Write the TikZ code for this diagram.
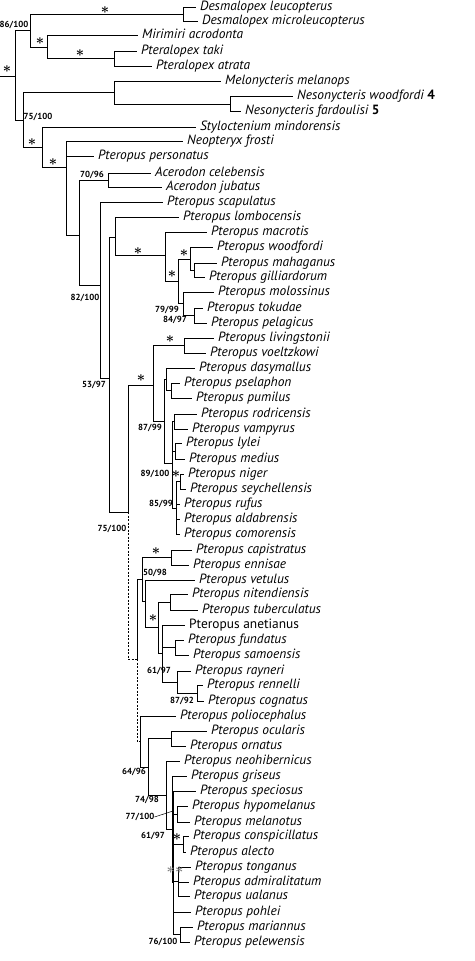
\documentclass[tikz,border=0pt]{standalone}
\usepackage{fontspec}
\setmainfont{PT Sans}
\begin{document}
\begin{tikzpicture}[x=1pt,y=-1pt,
  br/.style={line width=0.85pt},
  dbr/.style={line width=0.6pt,dashed,dash pattern=on 2pt off 1.5pt},
  lf/.style={anchor=west,inner xsep=4pt,inner ysep=0pt,font=\fontsize{13.4}{13.4}\selectfont\itshape,text height=8.5pt,text depth=2.5pt},
  lfu/.style={lf,font=\fontsize{13.4}{13.4}\selectfont\upshape},
  sup/.style={font=\fontsize{8.8}{8.8}\selectfont\bfseries,inner sep=0pt},
  ast/.style={font=\fontsize{15}{15}\selectfont\boldmath,inner sep=0pt,yshift=-3.8pt}]
\fill[white] (0,0) rectangle (474,961);
\useasboundingbox (0,0) rectangle (474,961);
% internal nodes
\coordinate (r0) at (0,76);
\coordinate (R) at (15,76);
\coordinate (A) at (30,30.5);
\coordinate (D) at (183,14);
\coordinate (M) at (47,47);
\coordinate (P) at (114,58.5);
\coordinate (B) at (23,120);
\coordinate (Mel) at (114,92.5);
\coordinate (Nes) at (230,104);
\coordinate (S) at (42,147);
\coordinate (T) at (66,167);
\coordinate (U) at (79,235);
\coordinate (Ac) at (108,180);
\coordinate (V) at (100,285);
\coordinate (W) at (109,378);
\coordinate (L) at (115,237);
\coordinate (Mac) at (165,255);
\coordinate (G) at (178,281);
\coordinate (Wd) at (190,259);
\coordinate (Mh) at (194,270);
\coordinate (Mo) at (183,303);
\coordinate (Tk) at (194,315.5);
\coordinate (X) at (128,512);
\coordinate (IO) at (153,385);
\coordinate (Lv) at (184,345.5);
\coordinate (Q) at (164,421);
\coordinate (Ds) at (166,379);
\coordinate (Ps) at (171,390.5);
\coordinate (Rn) at (172,463);
\coordinate (Rv) at (174,421.5);
\coordinate (Ly) at (175,451);
\coordinate (Nf) at (176,508);
\coordinate (Ng) at (180,481.5);
\coordinate (K) at (137,659);
\coordinate (Z) at (142,579);
\coordinate (CE) at (171,557.5);
\coordinate (Z2) at (145,601);
\coordinate (N158) at (158,627);
\coordinate (Nt) at (170,602);
\coordinate (An) at (162,653);
\coordinate (Fs) at (175,647.5);
\coordinate (R61) at (177,682);
\coordinate (RC) at (197,693);
\coordinate (Y) at (140,741);
\coordinate (Oc) at (148,767);
\coordinate (OO) at (171,738.5);
\coordinate (Nh) at (166,795);
\coordinate (Gr) at (172,829);
\coordinate (H) at (173,882);
\coordinate (HM) at (177,814);
\coordinate (CA) at (183,844);
\coordinate (TAU) at (178,881.5);
\coordinate (MP) at (180,934.5);
% leaves
\node[lf] (l1) at (196,7) {Desmalopex leucopterus};
\node[lf] (l2) at (198,21) {Desmalopex microleucopterus};
\node[lf] (l3) at (138,35) {Mirimiri acrodonta};
\node[lf] (l4) at (137,51) {Pteralopex taki};
\node[lf] (l5) at (152,66) {Pteralopex atrata};
\node[lf] (l6) at (221,81) {Melonycteris melanops};
\node[lf] (l7) at (293,96) {Nesonycteris woodfordi \textbf{\upshape 4}};
\node[lf] (l8) at (241,111) {Nesonycteris fardoulisi \textbf{\upshape 5}};
\node[lf] (l9) at (196,127) {Styloctenium mindorensis};
\node[lf] (l10) at (183,141) {Neopteryx frosti};
\node[lf] (l11) at (94,156) {Pteropus personatus};
\node[lf] (l12) at (151,173) {Acerodon celebensis};
\node[lf] (l13) at (162,187) {Acerodon jubatus};
\node[lf] (l14) at (163,202) {Pteropus scapulatus};
\node[lf] (l15) at (179,217) {Pteropus lombocensis};
\node[lf] (l16) at (207,232) {Pteropus macrotis};
\node[lf] (l17) at (213,247) {Pteropus woodfordi};
\node[lf] (l18) at (217,263) {Pteropus mahaganus};
\node[lf] (l19) at (205,277) {Pteropus gilliardorum};
\node[lf] (l20) at (214,292) {Pteropus molossinus};
\node[lf] (l21) at (203,308) {Pteropus tokudae};
\node[lf] (l22) at (207,323) {Pteropus pelagicus};
\node[lf] (l23) at (214,338) {Pteropus livingstonii};
\node[lf] (l24) at (206,353) {Pteropus voeltzkowi};
\node[lf] (l25) at (195,368) {Pteropus dasymallus};
\node[lf] (l26) at (180,383) {Pteropus pselaphon};
\node[lf] (l27) at (192,398) {Pteropus pumilus};
\node[lf] (l28) at (197,414) {Pteropus rodricensis};
\node[lf] (l29) at (188,429) {Pteropus vampyrus};
\node[lf] (l30) at (182,443) {Pteropus lylei};
\node[lf] (l31) at (185,459) {Pteropus medius};
\node[lf] (l32) at (184,474) {Pteropus niger};
\node[lf] (l33) at (186,489) {Pteropus seychellensis};
\node[lf] (l34) at (180,504) {Pteropus rufus};
\node[lf] (l35) at (180,519) {Pteropus aldabrensis};
\node[lf] (l36) at (180,534) {Pteropus comorensis};
\node[lf] (l37) at (192,550) {Pteropus capistratus};
\node[lf] (l38) at (189,565) {Pteropus ennisae};
\node[lf] (l39) at (195,580) {Pteropus vetulus};
\node[lf] (l40) at (188,594) {Pteropus nitendiensis};
\node[lf] (l41) at (198,610) {Pteropus tuberculatus};
\node[lfu] (l42) at (185,625) {Pteropus anetianus};
\node[lf] (l43) at (184,640) {Pteropus fundatus};
\node[lf] (l44) at (189,655) {Pteropus samoensis};
\node[lf] (l45) at (191,671) {Pteropus rayneri};
\node[lf] (l46) at (203,685) {Pteropus rennelli};
\node[lf] (l47) at (204,701) {Pteropus cognatus};
\node[lf] (l48) at (176,716) {Pteropus poliocephalus};
\node[lf] (l49) at (207,731) {Pteropus ocularis};
\node[lf] (l50) at (186,746) {Pteropus ornatus};
\node[lf] (l51) at (180,761) {Pteropus neohibernicus};
\node[lf] (l52) at (187,776) {Pteropus griseus};
\node[lf] (l53) at (196,791) {Pteropus speciosus};
\node[lf] (l54) at (188,806) {Pteropus hypomelanus};
\node[lf] (l55) at (190,822) {Pteropus melanotus};
\node[lf] (l56) at (189,836) {Pteropus conspicillatus};
\node[lf] (l57) at (186,852) {Pteropus alecto};
\node[lf] (l58) at (191,867) {Pteropus tonganus};
\node[lf] (l59) at (189,882) {Pteropus admiralitatum};
\node[lf] (l60) at (190,896) {Pteropus ualanus};
\node[lf] (l61) at (191,912) {Pteropus pohlei};
\node[lf] (l62) at (193,927) {Pteropus mariannus};
\node[lf] (l63) at (190,942) {Pteropus pelewensis};
% branches
\draw[br] (r0) -- (R);
\draw[br] (R) |- (A); \draw[br] (R) |- (B);
\draw[br] (A) |- (D); \draw[br] (A) |- (M);
\draw[br] (D) |- (l1.west); \draw[br] (D) |- (l2.west);
\draw[br] (M) |- (l3.west); \draw[br] (M) |- (P);
\draw[br] (P) |- (l4.west); \draw[br] (P) |- (l5.west);
\draw[br] (B) |- (Mel); \draw[br] (B) |- (S);
\draw[br] (Mel) |- (l6.west); \draw[br] (Mel) |- (Nes);
\draw[br] (Nes) |- (l7.west); \draw[br] (Nes) |- (l8.west);
\draw[br] (S) |- (l9.west); \draw[br] (S) |- (T);
\draw[br] (T) |- (l10.west); \draw[br] (T) |- (l11.west); \draw[br] (T) |- (U);
\draw[br] (U) |- (Ac); \draw[br] (U) |- (V);
\draw[br] (Ac) |- (l12.west); \draw[br] (Ac) |- (l13.west);
\draw[br] (V) |- (l14.west); \draw[br] (V) |- (W);
\draw[br] (W) |- (L); \draw[br] (W) |- (X);
\draw[br] (L) |- (l15.west); \draw[br] (L) |- (Mac);
\draw[br] (Mac) |- (l16.west); \draw[br] (Mac) |- (G);
\draw[br] (G) |- (Wd); \draw[br] (G) |- (Mo);
\draw[br] (Wd) |- (l17.west); \draw[br] (Wd) |- (Mh);
\draw[br] (Mh) |- (l18.west); \draw[br] (Mh) |- (l19.west);
\draw[br] (Mo) |- (l20.west); \draw[br] (Mo) |- (Tk);
\draw[br] (Tk) |- (l21.west); \draw[br] (Tk) |- (l22.west);
\draw[br] (X) |- (IO);
\draw[br] (IO) |- (Lv); \draw[br] (IO) |- (Q);
\draw[br] (Lv) |- (l23.west); \draw[br] (Lv) |- (l24.west);
\draw[br] (Q) |- (Ds); \draw[br] (Q) |- (Rn);
\draw[br] (Ds) |- (l25.west); \draw[br] (Ds) |- (Ps);
\draw[br] (Ps) |- (l26.west); \draw[br] (Ps) |- (l27.west);
\draw[br] (Rn) |- (Rv); \draw[br] (Rn) |- (Ly); \draw[br] (Rn) |- (Nf);
\draw[br] (Rv) |- (l28.west); \draw[br] (Rv) |- (l29.west);
\draw[br] (Ly) |- (l30.west); \draw[br] (Ly) |- (l31.west);
\draw[br] (Nf) |- (Ng); \draw[br] (Nf) |- (l34.west); \draw[br] (Nf) |- (l35.west); \draw[br] (Nf) |- (l36.west);
\draw[br] (Ng) |- (l32.west); \draw[br] (Ng) |- (l33.west);
\draw[dbr] (X) |- (K);
\draw[br] (K) |- (Z);
\draw[dbr] (K) |- (Y);
\draw[br] (Z) |- (CE); \draw[br] (Z) |- (Z2);
\draw[br] (CE) |- (l37.west); \draw[br] (CE) |- (l38.west);
\draw[br] (Z2) |- (l39.west); \draw[br] (Z2) |- (N158);
\draw[br] (N158) |- (Nt); \draw[br] (N158) |- (An);
\draw[br] (Nt) |- (l40.west); \draw[br] (Nt) |- (l41.west);
\draw[br] (An) |- (l42.west); \draw[br] (An) |- (Fs); \draw[br] (An) |- (R61);
\draw[br] (Fs) |- (l43.west); \draw[br] (Fs) |- (l44.west);
\draw[br] (R61) |- (l45.west); \draw[br] (R61) |- (RC);
\draw[br] (RC) |- (l46.west); \draw[br] (RC) |- (l47.west);
\draw[br] (Y) |- (l48.west); \draw[br] (Y) |- (Oc);
\draw[br] (Oc) |- (OO); \draw[br] (Oc) |- (Nh);
\draw[br] (OO) |- (l49.west); \draw[br] (OO) |- (l50.west);
\draw[br] (Nh) |- (l51.west); \draw[br] (Nh) |- (Gr);
\draw[br] (Gr) |- (l52.west); \draw[br] (Gr) |- (H);
\draw[br] (H) |- (l53.west); \draw[br] (H) |- (HM); \draw[br] (H) |- (CA);
\draw[br] (H) |- (TAU); \draw[br] (H) |- (l61.west); \draw[br] (H) |- (MP);
\draw[br] (HM) |- (l54.west); \draw[br] (HM) |- (l55.west);
\draw[br] (CA) |- (l56.west); \draw[br] (CA) |- (l57.west);
\draw[br] (TAU) |- (l58.west); \draw[br] (TAU) |- (l59.west); \draw[br] (TAU) |- (l60.west);
\draw[br] (MP) |- (l62.west); \draw[br] (MP) |- (l63.west);
% support values
\node[sup] (s1) at (14,25) {86/100};
\node[sup] (s2) at (38,117) {75/100};
\node[sup] (s3) at (92,175) {70/96};
\node[sup] (s4) at (85,298) {82/100};
\node[sup] (s5) at (167,310) {79/99};
\node[sup] (s6) at (175,320) {84/97};
\node[sup] (s7) at (94,385) {53/97};
\node[sup] (s8) at (150,428) {87/99};
\node[sup] (s9) at (155,474) {89/100};
\node[sup] (s10) at (161,504) {85/99};
\node[sup] (s11) at (112,529) {75/100};
\node[sup] (s12) at (155,573) {50/98};
\node[sup] (s13) at (159,671) {61/97};
\node[sup] (s14) at (182,701) {87/92};
\node[sup] (s15) at (134,772) {64/96};
\node[sup] (s16) at (147,800) {74/98};
\node[sup] (s17) at (140,817) {77/100};
\node[sup] (s18) at (153,836) {61/97};
\node[sup] (s19) at (163,942) {76/100};
\draw[line width=0.5pt] (s17.east) -- (173,811);
% asterisks
\foreach \p in {(105,10),(40,41),(80,53),(7,69),(32,142),(53,162),(138,251),(184,253),(172,274),(170,339),(141,378),(176,474),(156,551),(153,618),(177,837)}
  \node[ast] at \p {\smash{$\ast$}};
\node[ast,text=gray] at (175,870) {\smash{$\ast\ast$}};
\end{tikzpicture}
\end{document}
